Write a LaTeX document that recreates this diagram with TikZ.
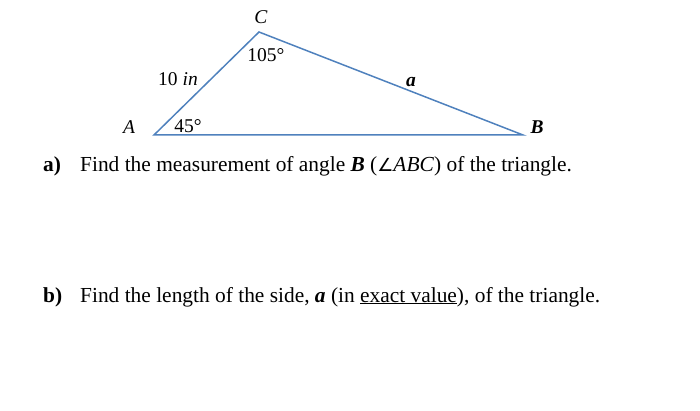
\documentclass[tikz,border=0pt]{standalone}
\usepackage{fontspec}
\setmainfont{Liberation Serif}
\newfontfamily\symfont{DejaVu Sans}
\definecolor{sideblue}{RGB}{79,129,189}
\tikzset{
  lbl/.style={font=\fontsize{19.5}{23}\selectfont, inner sep=0pt},
  qtext/.style={font=\fontsize{21.4}{26}\selectfont, anchor=base west, inner sep=0pt}
}
\begin{document}
\begin{tikzpicture}[x=1pt,y=-1pt]
\useasboundingbox (0,0) rectangle (700,411);

\coordinate (A) at (154,135);
\coordinate (B) at (523,135);
\coordinate (C) at (259,32);
\draw[sideblue, line width=1.5pt, line join=miter] (A) -- (B) -- (C) -- cycle;

\node[lbl] (lA) at (129,127) {\textit{A}};
\node[lbl] (lB) at (537,127) {\textbf{\textit{B}}};
\node[lbl] (lC) at (261,17) {\textit{C}};
\node[lbl] (angC) at (266,55) {105°};
\node[lbl] (angA) at (188,126) {45°};
\node[lbl] (sideb) at (178,79) {10 \textit{in}};
\node[lbl] (sidea) at (411,82) {\textbf{\textit{a}}};

\node[qtext] (qa) at (43,172) {\textbf{a)}};
\node[qtext] (qatext) at (80,172) {Find the measurement of angle \textbf{\textit{B}} ({\symfont\fontsize{18}{22}\selectfont ∠}\textit{ABC}) of the triangle.};
\node[qtext] (qb) at (43,302) {\textbf{b)}};
\node[qtext] (qbtext) at (80,302) {Find the length of the side, \textbf{\textit{a}} (in \underline{exact value}), of the triangle.};
\end{tikzpicture}
\end{document}
